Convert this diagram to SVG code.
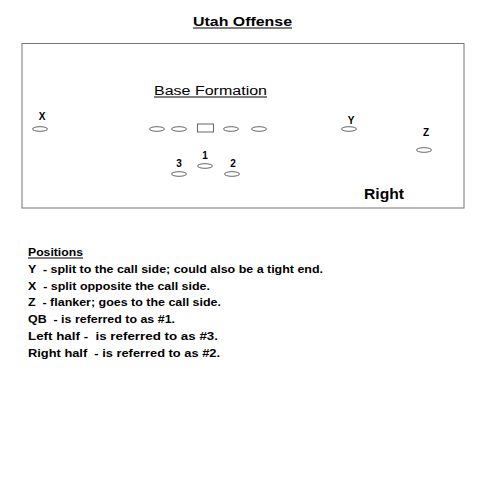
<svg xmlns="http://www.w3.org/2000/svg" width="480" height="480" viewBox="0 0 480 480">
<style>
.t{font-family:"Liberation Sans",Arial,sans-serif;fill:#000}
.b{font-weight:bold}
.l{font-size:10px;font-weight:bold;text-anchor:middle}
.p{fill:#fff;stroke:#555;stroke-width:0.9}
.u{stroke:#000;stroke-width:1}
</style>
<rect width="480" height="480" fill="#fff"/>
<g id="title">
<text class="t b" x="193" y="26" font-size="12" textLength="99" lengthAdjust="spacingAndGlyphs">Utah Offense</text>
<line class="u" x1="193" y1="28" x2="292" y2="28"/>
</g>
<g id="field">
<rect x="22" y="43.5" width="442" height="164.5" fill="none" stroke="#777" stroke-width="1"/>
<text class="t" x="154" y="95" font-size="12.5" textLength="113" lengthAdjust="spacingAndGlyphs">Base Formation</text>
<line class="u" x1="154" y1="97" x2="267" y2="97" stroke-width="0.8"/>
<text class="t b" x="364" y="199" font-size="14" textLength="40" lengthAdjust="spacingAndGlyphs">Right</text>
</g>
<g id="node-X"><text class="t l" x="42" y="120">X</text><ellipse class="p" cx="40" cy="129" rx="7.5" ry="2.3"/></g>
<g id="node-lt"><ellipse class="p" cx="157" cy="129" rx="7.5" ry="2.3"/></g>
<g id="node-lg"><ellipse class="p" cx="179" cy="129" rx="7.5" ry="2.3"/></g>
<g id="node-c"><rect class="p" x="197.5" y="124" width="16" height="8"/></g>
<g id="node-rg"><ellipse class="p" cx="231" cy="129" rx="7.5" ry="2.3"/></g>
<g id="node-rt"><ellipse class="p" cx="259" cy="129" rx="7.5" ry="2.3"/></g>
<g id="node-Y"><text class="t l" x="351" y="124">Y</text><ellipse class="p" cx="349" cy="129" rx="7.5" ry="2.3"/></g>
<g id="node-Z"><text class="t l" x="426" y="136">Z</text><ellipse class="p" cx="424" cy="150" rx="7.5" ry="2.3"/></g>
<g id="node-1"><text class="t l" x="205" y="159">1</text><ellipse class="p" cx="205" cy="166" rx="7.5" ry="2.3"/></g>
<g id="node-3"><text class="t l" x="179" y="167">3</text><ellipse class="p" cx="179" cy="174" rx="7.5" ry="2.3"/></g>
<g id="node-2"><text class="t l" x="233" y="167">2</text><ellipse class="p" cx="232" cy="174" rx="7.5" ry="2.3"/></g>
<g id="legend" class="t b" font-size="10.5">
<text x="28" y="256" textLength="55" lengthAdjust="spacingAndGlyphs">Positions</text>
<line class="u" x1="28" y1="258" x2="83" y2="258" stroke-width="0.8"/>
<text x="28" y="273" xml:space="preserve" textLength="295" lengthAdjust="spacingAndGlyphs">Y  - split to the call side; could also be a tight end.</text>
<text x="28" y="290" xml:space="preserve" textLength="182" lengthAdjust="spacingAndGlyphs">X  - split opposite the call side.</text>
<text x="28" y="306" xml:space="preserve" textLength="193" lengthAdjust="spacingAndGlyphs">Z  - flanker; goes to the call side.</text>
<text x="28" y="323" xml:space="preserve" textLength="147" lengthAdjust="spacingAndGlyphs">QB  - is referred to as #1.</text>
<text x="28" y="340" xml:space="preserve" textLength="190" lengthAdjust="spacingAndGlyphs">Left half -  is referred to as #3.</text>
<text x="28" y="357" xml:space="preserve" textLength="192" lengthAdjust="spacingAndGlyphs">Right half  - is referred to as #2.</text>
</g>
</svg>
